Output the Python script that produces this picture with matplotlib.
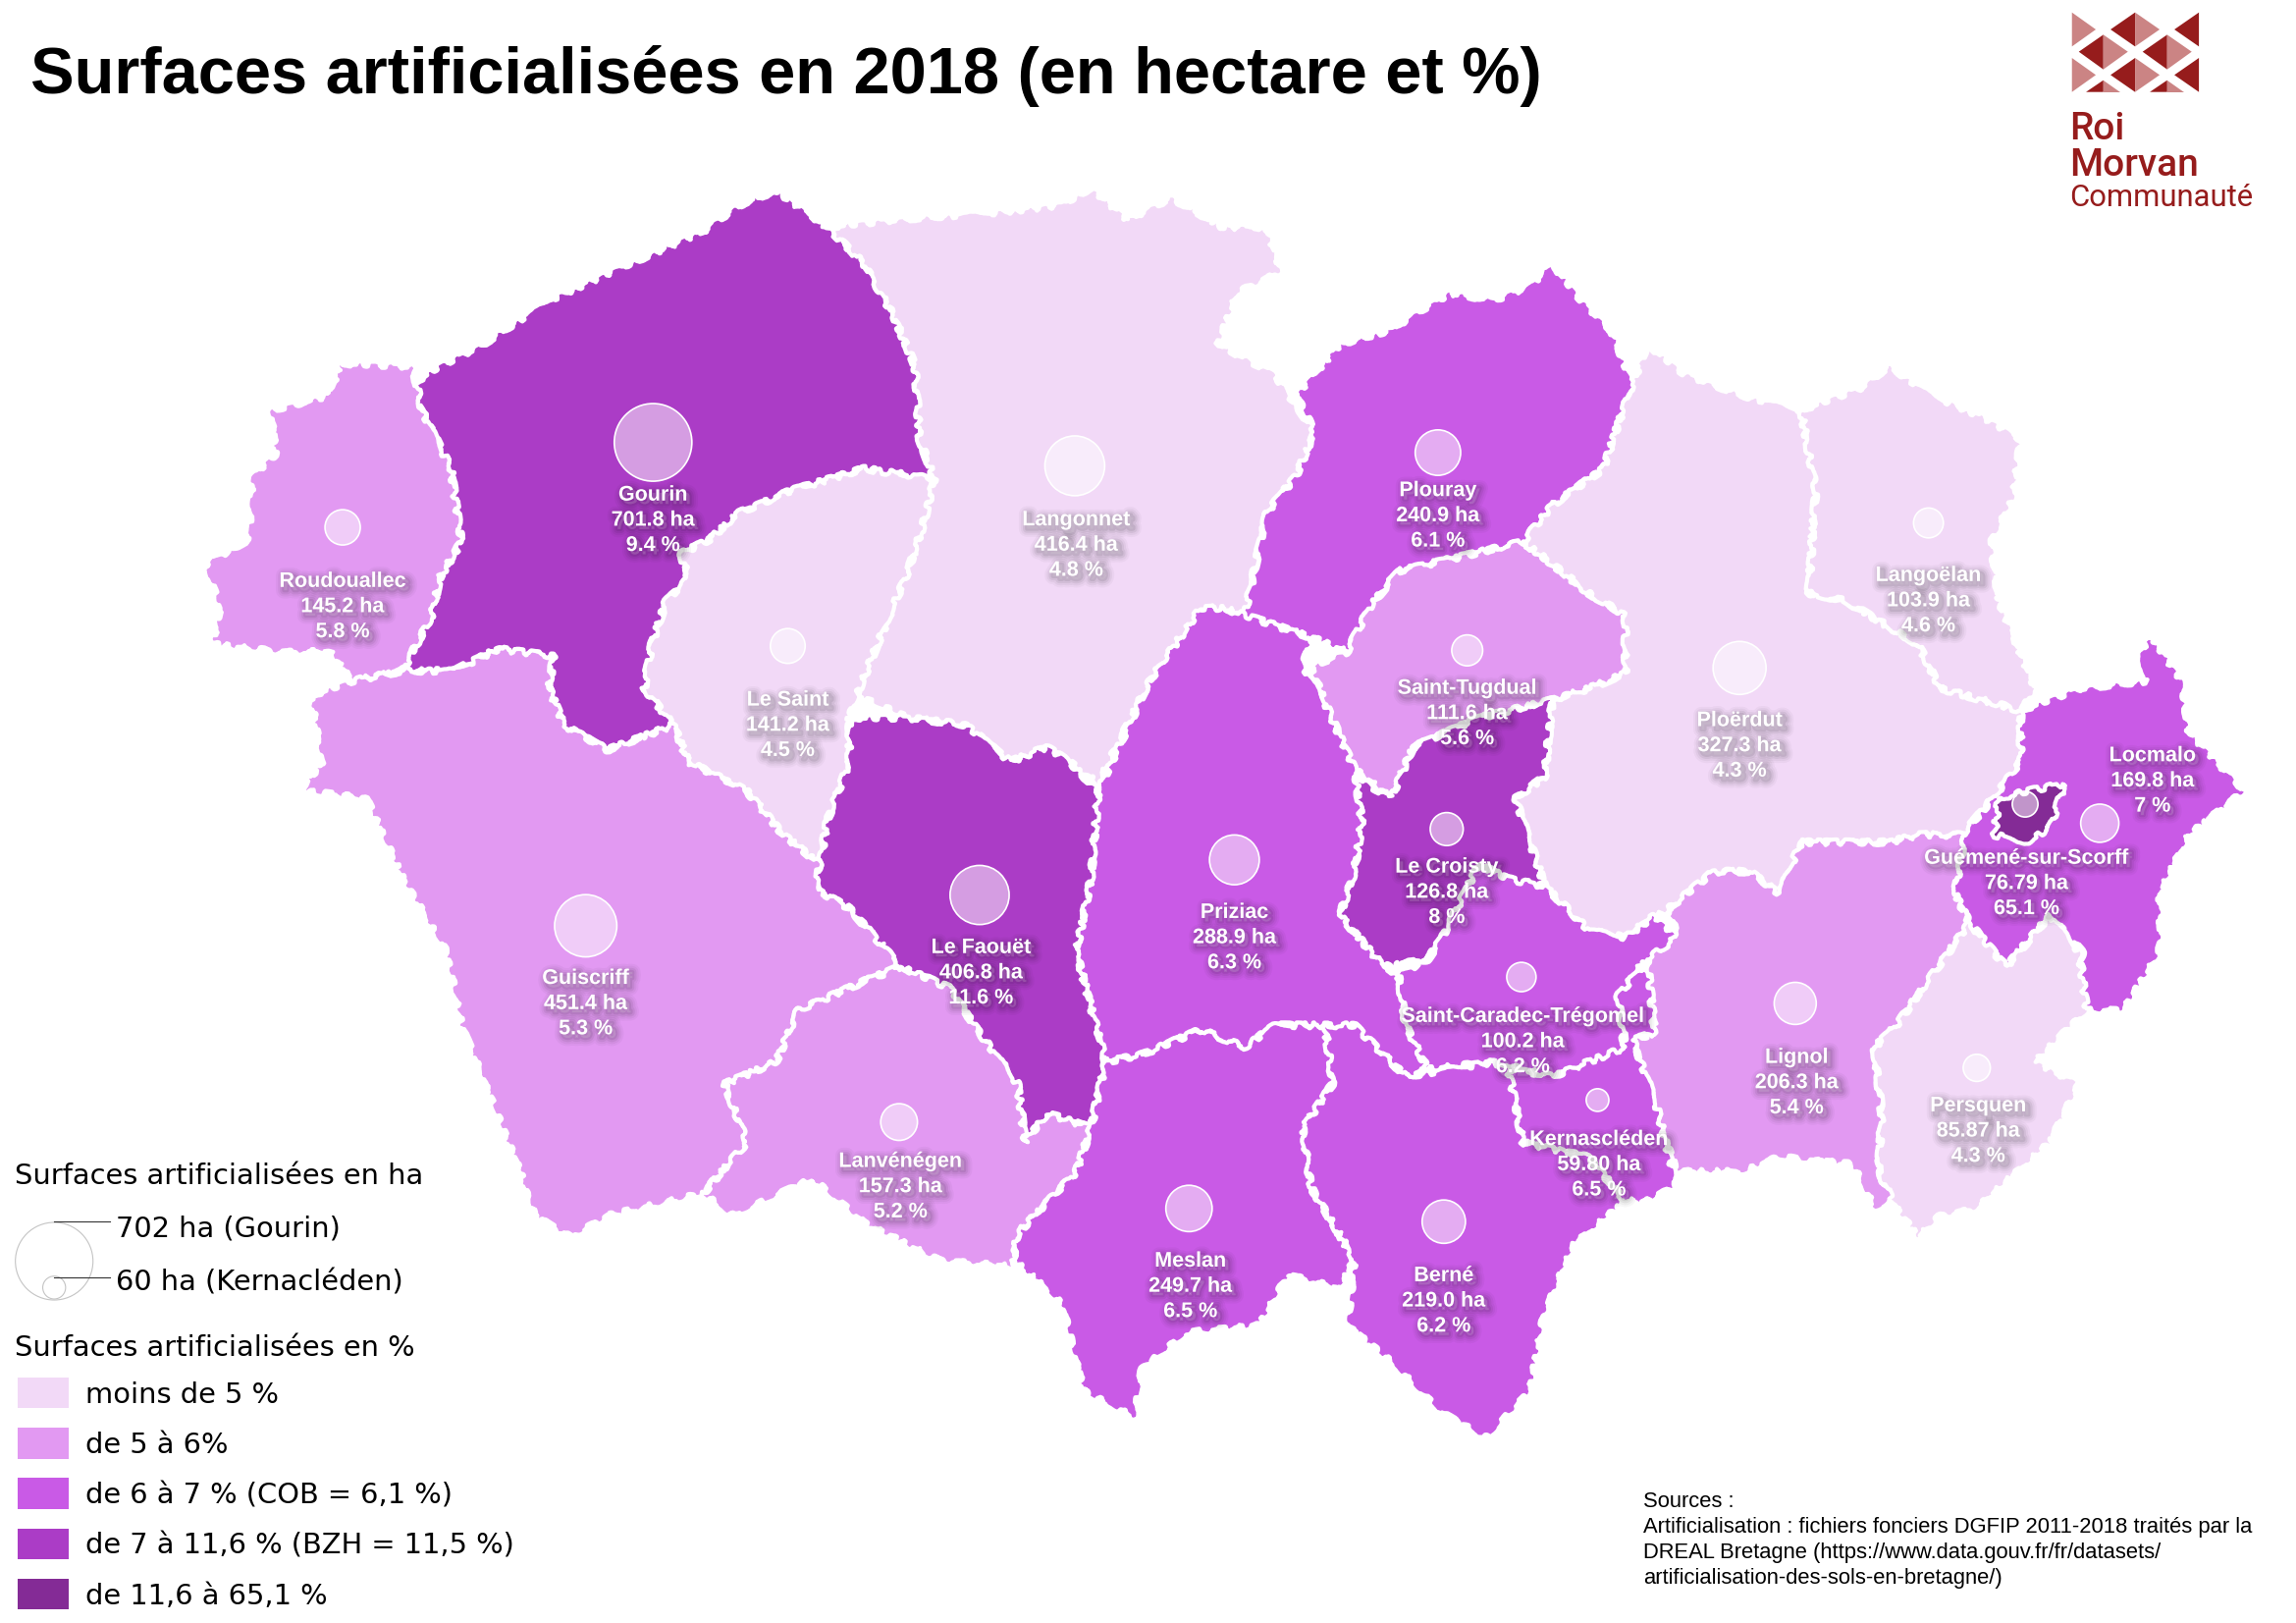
"""Surfaces artificialisees 2018, Roi Morvan Communaute."""

import math

import matplotlib

matplotlib.use("Agg")
import matplotlib.patheffects as pe
import matplotlib.pyplot as plt
from matplotlib.patches import Circle, Polygon, Rectangle

# commune outlines (x, y in picture units)
GOURIN = [(282,262),(300,250),(330,235),(375,205),(430,180),(480,158),(505,140),(530,130),(565,155),(590,180),(610,215),(625,250),(628,300),(638,327),(590,320),(540,335),(505,350),(485,368),(465,378),(470,395),(455,410),(445,440),(440,470),(460,495),(415,512),(385,495),(375,470),(378,448),(340,443),(310,458),(275,458),(295,420),(300,395),(315,370),(308,320),(288,280)]
ROUDOUALLEC = [(232,248),(282,250),(288,280),(308,320),(315,370),(300,395),(295,420),(275,458),(240,465),(225,445),(190,445),(145,440),(150,415),(140,385),(170,368),(172,325),(188,310),(185,280),(225,270)]
LANGONNET = [(565,155),(610,150),(680,145),(725,140),(745,128),(770,150),(800,135),(835,155),(865,155),(875,185),(845,200),(832,235),(870,255),(898,295),(885,325),(865,350),(850,420),(835,415),(785,465),(750,535),(730,520),(715,510),(690,520),(660,495),(620,490),(585,475),(595,450),(620,390),(630,360),(638,327),(628,300),(625,250),(610,215),(590,180)]
LE_SAINT = [(638,327),(630,360),(620,390),(595,450),(585,475),(580,490),(580,520),(565,560),(560,590),(535,570),(510,540),(470,520),(460,495),(440,470),(445,440),(455,410),(470,395),(465,378),(485,368),(505,350),(540,335),(590,320)]
PLOURAY = [(1060,180),(1080,205),(1100,225),(1115,262),(1105,290),(1095,320),(1060,345),(1040,370),(955,390),(935,415),(920,445),(895,435),(850,420),(865,350),(885,325),(898,295),(885,270),(915,235),(950,225),(990,200),(1020,205),(1045,195)]
SAINT_TUGDUAL = [(1040,370),(1060,385),(1085,405),(1110,420),(1110,460),(1085,470),(1060,478),(1010,490),(965,510),(950,545),(925,525),(905,480),(895,455),(920,445),(935,415),(955,390)]
LE_CROISTY = [(1060,478),(1055,530),(1035,545),(1055,605),(1030,600),(1010,590),(985,640),(975,655),(945,660),(915,625),(925,595),(930,560),(925,530),(950,545),(965,510),(1010,490)]
SAINT_CARADEC = [(1010,590),(1030,600),(1055,605),(1085,635),(1110,640),(1130,625),(1145,640),(1145,655),(1120,660),(1105,680),(1110,720),(1060,735),(1020,725),(975,730),(960,700),(955,665),(975,655),(985,640)]
KERNASCLEDEN = [(1125,655),(1130,705),(1115,710),(1130,750),(1145,810),(1125,820),(1110,820),(1085,790),(1040,780),(1030,730),(1060,735),(1110,715),(1105,680)]
BERNE = [(905,700),(925,700),(960,735),(1020,725),(1030,730),(1040,780),(1085,790),(1110,820),(1075,850),(1055,895),(1045,950),(1015,982),(985,965),(950,930),(920,905),(925,860),(895,810),(890,770),(910,740)]
MESLAN = [(780,720),(820,703),(850,715),(870,700),(905,700),(910,740),(890,770),(895,810),(925,860),(915,880),(880,870),(860,905),(810,910),(780,935),(775,968),(740,950),(725,890),(692,860),(695,842),(735,800),(745,770),(755,725)]
PRIZIAC = [(835,415),(850,420),(895,435),(890,455),(905,480),(925,525),(930,560),(925,595),(915,625),(945,660),(955,665),(960,700),(975,730),(960,735),(925,700),(905,700),(870,700),(850,715),(820,703),(780,720),(755,725),(735,650),(745,600),(750,540),(785,465),(820,415)]
LE_FAOUET = [(580,490),(620,490),(660,495),(690,520),(715,510),(730,520),(750,540),(745,600),(735,650),(755,725),(745,770),(715,760),(700,780),(695,740),(665,700),(650,675),(615,660),(580,620),(557,607),(565,560),(580,520)]
GUISCRIFF = [(212,475),(240,465),(275,458),(310,458),(340,443),(378,448),(375,470),(385,495),(415,512),(460,495),(470,520),(510,540),(535,570),(560,590),(557,607),(580,620),(615,660),(590,670),(545,690),(530,725),(495,740),(510,780),(480,815),(415,830),(390,845),(365,830),(355,800),(315,700),(305,650),(275,600),(250,545),(205,540),(220,520)]
LANVENEGEN = [(615,660),(650,675),(665,700),(695,740),(700,780),(715,760),(745,770),(735,800),(695,842),(692,865),(640,860),(590,835),(555,805),(500,830),(480,815),(510,780),(495,740),(530,725),(545,690),(590,670)]
LIGNOL = [(1140,620),(1170,595),(1195,595),(1215,610),(1230,575),(1290,575),(1310,570),(1342,570),(1335,610),(1345,630),(1320,665),(1295,700),(1280,715),(1285,760),(1283,800),(1295,820),(1280,825),(1265,795),(1215,790),(1190,800),(1145,800),(1125,745),(1115,710),(1130,705),(1125,655),(1145,640)]
PERSQUEN = [(1345,630),(1370,660),(1400,625),(1420,650),(1425,690),(1390,725),(1420,740),(1400,780),(1350,825),(1325,830),(1310,845),(1295,825),(1283,800),(1285,760),(1280,715),(1295,700),(1320,665)]
LOCMALO = [(1380,485),(1420,470),(1465,465),(1460,445),(1470,435),(1490,465),(1495,500),(1533,540),(1495,570),(1475,610),(1475,650),(1450,690),(1420,690),(1422,650),(1400,625),(1370,660),(1345,630),(1335,610),(1340,570),(1365,540),(1380,520)]
GUEMENE = [(1365,545),(1385,540),(1410,535),(1400,565),(1385,575),(1362,570)]
PLOERDUT = [(1125,235),(1150,255),(1190,270),(1230,280),(1240,335),(1235,405),(1260,410),(1310,440),(1325,470),(1380,485),(1380,520),(1365,540),(1340,570),(1310,570),(1290,575),(1230,575),(1215,610),(1195,595),(1170,595),(1140,620),(1110,640),(1085,635),(1055,605),(1035,545),(1055,530),(1060,478),(1085,470),(1110,460),(1110,420),(1085,405),(1060,385),(1040,370),(1060,345),(1095,320),(1105,290),(1115,262)]
LANGOELAN = [(1230,280),(1270,265),(1290,250),(1320,270),(1355,285),(1380,300),(1375,340),(1360,370),(1365,410),(1390,470),(1380,485),(1325,470),(1310,440),(1260,410),(1235,405),(1240,335)]

COLORS = ["#f2d9f7", "#e299f2", "#c95ae6", "#ab3cc6", "#842b96"]

NAMES = ["Gourin", "Roudouallec", "Langonnet", "Le Saint", "Plouray", "Saint-Tugdual", "Ploërdut", "Langoëlan", "Locmalo", "Guémené-sur-Scorff", "Le Croisty", "Priziac", "Le Faouët", "Guiscriff", "Saint-Caradec-Trégomel", "Lignol", "Persquen", "Kernascléden", "Lanvénégen", "Meslan", "Berné"]
HECTARES = [701.8, 145.2, 416.4, 141.2, 240.9, 111.6, 327.3, 103.9, 169.8, 76.79, 126.8, 288.9, 406.8, 451.4, 100.2, 206.3, 85.87, 59.80, 157.3, 249.7, 219.0]
HA_LABELS = ["701.8", "145.2", "416.4", "141.2", "240.9", "111.6", "327.3", "103.9", "169.8", "76.79", "126.8", "288.9", "406.8", "451.4", "100.2", "206.3", "85.87", "59.80", "157.3", "249.7", "219.0"]
PCT_LABELS = ["9.4", "5.8", "4.8", "4.5", "6.1", "5.6", "4.3", "4.6", "7", "65.1", "8", "6.3", "11.6", "5.3", "6.2", "5.4", "4.3", "6.5", "5.2", "6.5", "6.2"]
CLASSES = [3, 1, 0, 0, 2, 1, 0, 0, 2, 4, 3, 2, 3, 1, 2, 1, 0, 2, 1, 2, 2]
OUTLINES = [GOURIN, ROUDOUALLEC, LANGONNET, LE_SAINT, PLOURAY, SAINT_TUGDUAL, PLOERDUT, LANGOELAN, LOCMALO, GUEMENE, LE_CROISTY, PRIZIAC, LE_FAOUET, GUISCRIFF, SAINT_CARADEC, LIGNOL, PERSQUEN, KERNASCLEDEN, LANVENEGEN, MESLAN, BERNE]
BUBBLE_X = [446, 234, 734, 538, 982, 1002, 1188, 1317, 1434, 1383, 988, 843, 669, 400, 1039, 1226, 1350, 1091, 614, 812, 986]
BUBBLE_Y = [302, 360, 318, 441, 309, 444, 456, 357, 562, 549, 566, 587, 611, 632, 667, 685, 729, 751, 766, 825, 834]
LABEL_X = [446, 234, 735, 538, 982, 1002, 1188, 1317, 1470, 1384, 988, 843, 670, 400, 1040, 1227, 1351, 1092, 615, 813, 986]
LABEL_Y = [338, 397, 355, 478, 335, 470, 492, 393, 516, 586, 592, 623, 647, 668, 694, 722, 755, 778, 793, 861, 871]

LEGEND_CLASSES = ["moins de 5 %", "de 5 à 6%", "de 6 à 7 % (COB = 6,1 %)", "de 7 à 11,6 % (BZH = 11,5 %)", "de 11,6 à 65,1 %"]
SOURCES = [
    "Sources :",
    "Artificialisation : fichiers fonciers DGFIP 2011-2018 traités par la",
    "DREAL Bretagne (https://www.data.gouv.fr/fr/datasets/",
    "artificialisation-des-sols-en-bretagne/)",
]

LOGO_DARK = [[(300,90),(375,38),(375,142)], [(495,90),(570,38),(570,142)], [(203,158),(278,106),(278,212)], [(398,158),(473,106),(473,212)], [(300,229),(375,177),(375,281)], [(495,229),(570,177),(570,281)], [(225,281),(278,245),(278,281)], [(420,281),(473,245),(473,281)]]
LOGO_LIGHT = [[(182,38),(182,142),(255,90)], [(375,38),(375,142),(450,90)], [(278,106),(278,212),(353,158)], [(473,106),(473,212),(548,158)], [(182,177),(182,281),(255,229)], [(375,177),(375,281),(450,229)], [(278,245),(278,281),(330,281)], [(473,245),(473,281),(525,281)]]

RED = "#961c1c"
SANS = "Liberation Sans"
LEGEND_FONT = "DejaVu Sans"


def logo_xy(tri):
    return [(1374.3 + x * 0.2235, y * 0.2235) for x, y in tri]


fig = plt.figure(figsize=(23.39, 16.53), dpi=100)
ax = fig.add_axes([0, 0, 1, 1])
ax.set_xlim(0, 1568)
ax.set_ylim(1108, 0)
ax.axis("off")

for outline, cls in zip(OUTLINES, CLASSES):
    poly = Polygon(outline, closed=True, facecolor=COLORS[cls], edgecolor="white", linewidth=3.0, joinstyle="round", zorder=2)
    poly.set_sketch_params(scale=3, length=70, randomness=20)
    ax.add_patch(poly)

for x, y, ha in zip(BUBBLE_X, BUBBLE_Y, HECTARES):
    r = 26.5 * math.sqrt(ha / HECTARES[0])
    ax.add_patch(Circle((x, y), r, facecolor=(1, 1, 1, 0.5), edgecolor="white", linewidth=1.2, zorder=3))

shadow = [
    pe.Stroke(linewidth=12, foreground="black", alpha=0.03, offset=(2.5, -2.5)),
    pe.Stroke(linewidth=9, foreground="black", alpha=0.04, offset=(2.5, -2.5)),
    pe.Stroke(linewidth=6, foreground="black", alpha=0.06, offset=(2.5, -2.5)),
    pe.Stroke(linewidth=3, foreground="black", alpha=0.08, offset=(2.5, -2.5)),
    pe.Normal(),
]
for name, hl, pl, x, y in zip(NAMES, HA_LABELS, PCT_LABELS, LABEL_X, LABEL_Y):
    for i, line in enumerate([name, f"{hl} ha", f"{pl} %"]):
        ax.text(x, y + i * 17.2, line, color="white", family=SANS, weight="bold", fontsize=15.5, ha="center", va="center", path_effects=shadow, zorder=5)

ax.text(21, 52, "Surfaces artificialisées en 2018 (en hectare et %)", family=SANS, weight="bold", fontsize=48.1, ha="left", va="center", color="black")

# logo
for tri in LOGO_DARK:
    ax.add_patch(Polygon(logo_xy(tri), closed=True, facecolor=RED, edgecolor="none"))
for tri in LOGO_LIGHT:
    ax.add_patch(Polygon(logo_xy(tri), closed=True, facecolor="#cb8484", edgecolor="none"))
ax.text(1413, 88, "Roi", family="Roboto", weight="medium", fontsize=28, color=RED, va="center")
ax.text(1413, 113, "Morvan", family="Roboto", weight="medium", fontsize=28, color=RED, va="center")
ax.text(1413, 135, "Communauté", family="Roboto", fontsize=22.3, color=RED, va="center")

# legend
ax.text(10, 803, "Surfaces artificialisées en ha", family=LEGEND_FONT, fontsize=20.8, va="center")
ax.add_patch(Circle((37, 861), 26.5, facecolor="none", edgecolor="#c4c4c4", linewidth=0.8))
ax.add_patch(Circle((37, 879), 7.8, facecolor="none", edgecolor="#c4c4c4", linewidth=0.8))
ax.plot([37, 75], [834, 834], color="#333333", linewidth=0.8)
ax.plot([37, 75], [872, 872], color="#333333", linewidth=0.8)
ax.text(79, 839, "702 ha (Gourin)", family=LEGEND_FONT, fontsize=20.8, va="center")
ax.text(79, 876, "60 ha (Kernacléden)", family=LEGEND_FONT, fontsize=20.8, va="center")
ax.text(10, 920, "Surfaces artificialisées en %", family=LEGEND_FONT, fontsize=20.8, va="center")
for i, (label, color) in enumerate(zip(LEGEND_CLASSES, COLORS)):
    y = 951 + i * 34.3
    ax.add_patch(Rectangle((12, y - 10.5), 35, 21, facecolor=color, edgecolor="none"))
    ax.text(58, y + 1.5, label, family=LEGEND_FONT, fontsize=20.8, va="center")

for i, line in enumerate(SOURCES):
    ax.text(1122, 1025.5 + i * 17.4, line, family=SANS, fontsize=15.8, va="center")

fig.savefig("out.png", dpi=100, facecolor="white")
